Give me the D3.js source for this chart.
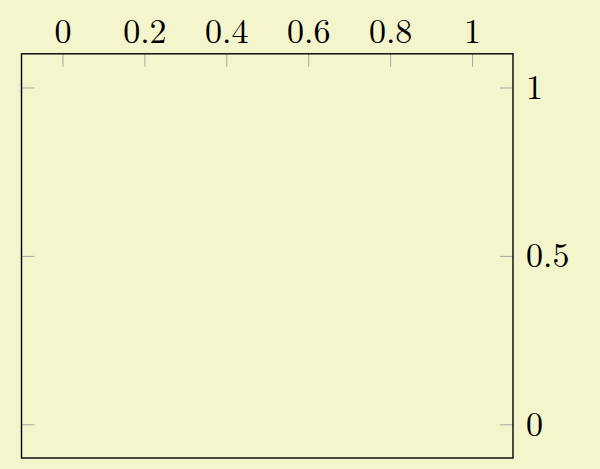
<!DOCTYPE html>
<html><head><meta charset="utf-8">
<script src="https://cdn.jsdelivr.net/npm/d3@7"></script>
<style>html,body{margin:0;padding:0;background:#f4f5cd;}svg{display:block;}</style>
</head><body>
<script>
const xTicks = [0, 0.2, 0.4, 0.6, 0.8, 1];
const xTickLabels = ["0", "0.2", "0.4", "0.6", "0.8", "1"];
const yTicks = [0, 0.5, 1];
const yTickLabels = ["0", "0.5", "1"];
const xDomain = [-0.1, 1.1];
const yDomain = [-0.1, 1.1];

(function(){
const W = 600, H = 469;
const svg = d3.select("body").append("svg").attr("width", W).attr("height", H);
svg.append("rect").attr("width", W).attr("height", H).attr("fill", "#f4f5cd");

const x = d3.scaleLinear().domain(xDomain).range([21.5, 513]);
const y = d3.scaleLinear().domain(yDomain).range([458, 53.8]);
const font = "'Latin Modern Roman','Liberation Serif','DejaVu Serif',serif";
const tickLen = 13;
const fs = 34;

const topAxis = svg.append("g").attr("transform", `translate(0,${y.range()[1]})`)
  .call(d3.axisTop(x).tickValues(xTicks).tickFormat((d,i)=>xTickLabels[i]).tickSizeInner(-tickLen).tickSizeOuter(0).tickPadding(11));
topAxis.select(".domain").remove();
topAxis.selectAll(".tick line").attr("stroke", "#a8a8a0").attr("stroke-width", 1);
topAxis.selectAll(".tick text").attr("font-family", font).attr("font-size", fs).attr("fill", "#000");

const rightAxis = svg.append("g").attr("transform", `translate(${x.range()[1]},0)`)
  .call(d3.axisRight(y).tickValues(yTicks).tickFormat((d,i)=>yTickLabels[i]).tickSizeInner(-tickLen).tickSizeOuter(0).tickPadding(13));
rightAxis.select(".domain").remove();
rightAxis.selectAll(".tick line").attr("stroke", "#a8a8a0").attr("stroke-width", 1);
rightAxis.selectAll(".tick text").attr("font-family", font).attr("font-size", fs).attr("fill", "#000");

const leftAxis = svg.append("g").attr("transform", `translate(${x.range()[0]},0)`)
  .call(d3.axisLeft(y).tickValues(yTicks).tickFormat("").tickSizeInner(-tickLen).tickSizeOuter(0));
leftAxis.select(".domain").remove();
leftAxis.selectAll(".tick line").attr("stroke", "#a8a8a0").attr("stroke-width", 1);

svg.append("rect")
  .attr("x", x.range()[0]).attr("y", y.range()[1])
  .attr("width", x.range()[1]-x.range()[0]).attr("height", y.range()[0]-y.range()[1])
  .attr("fill", "none").attr("stroke", "#000").attr("stroke-width", 1.4);
})();
</script>
</body></html>
